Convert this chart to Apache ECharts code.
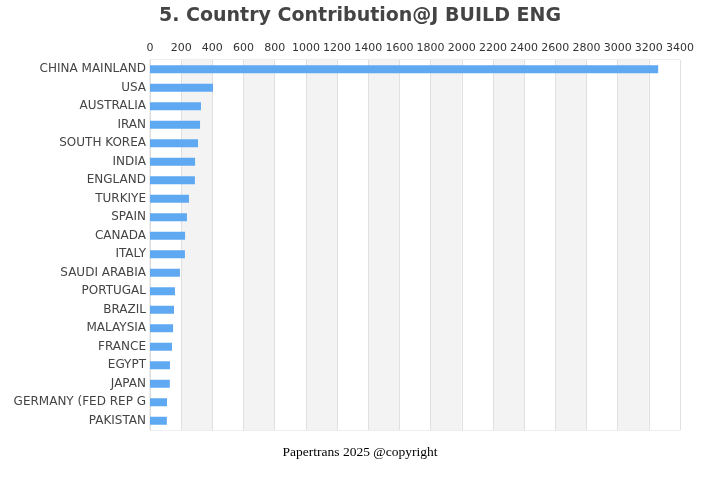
<!DOCTYPE html>
<html>
<head>
<meta charset="utf-8">
<script src="https://cdn.jsdelivr.net/npm/echarts@6/dist/echarts.min.js"></script>
<style>
  html, body { margin: 0; padding: 0; background: #fff; }
  #main { width: 720px; height: 480px; }
</style>
</head>
<body>
<div id="main"></div>
<script>
const countries = [
  'CHINA MAINLAND', 'USA', 'AUSTRALIA', 'IRAN', 'SOUTH KOREA', 'INDIA',
  'ENGLAND', 'TURKIYE', 'SPAIN', 'CANADA', 'ITALY', 'SAUDI ARABIA',
  'PORTUGAL', 'BRAZIL', 'MALAYSIA', 'FRANCE', 'EGYPT', 'JAPAN',
  'GERMANY (FED REP G', 'PAKISTAN'
];
const records = [
  3260, 404, 327, 321, 308, 289,
  288, 250, 237, 225, 224, 192,
  160, 154, 148, 141, 128, 127,
  109, 108
];

const chart = echarts.init(document.getElementById('main'), null, { renderer: 'canvas' });

chart.setOption({
  backgroundColor: '#fff',
  animation: false,
  title: {
    text: '5. Country Contribution@J BUILD ENG',
    left: 'center',
    top: 2,
    textStyle: { fontSize: 19, fontWeight: 'bold', color: '#444', fontFamily: 'DejaVu Sans' }
  },
  graphic: [{
    type: 'text',
    left: 'center',
    top: 445,
    style: {
      text: 'Papertrans 2025 @copyright',
      font: '13.5px "Liberation Serif", serif',
      fill: '#000'
    }
  }],
  grid: {
    left: 150, right: 40, top: 60, bottom: 50,
    show: true, borderColor: '#ddd', borderWidth: 1, backgroundColor: 'transparent'
  },
  xAxis: {
    type: 'value',
    position: 'top',
    min: 0, max: 3400, interval: 200,
    axisLine: { show: false },
    axisTick: { show: false },
    axisLabel: {
      color: '#333', fontSize: 11, fontFamily: 'DejaVu Sans', margin: 6,
      showMaxLabel: true, hideOverlap: false,
      formatter: v => String(v)
    },
    splitLine: { show: true, lineStyle: { color: '#e0e0e0' } },
    splitArea: { show: true, areaStyle: { color: ['#fff', '#f3f3f3'] } }
  },
  yAxis: {
    type: 'category',
    data: countries,
    inverse: true,
    axisLine: { show: true, lineStyle: { color: '#ddd' } },
    axisTick: { show: false },
    axisLabel: { color: '#444', fontSize: 12, fontFamily: 'DejaVu Sans', margin: 4 }
  },
  series: [{
    type: 'bar',
    data: records,
    barWidth: 8,
    itemStyle: { color: '#5fa8f2' }
  }]
});
</script>
</body>
</html>
